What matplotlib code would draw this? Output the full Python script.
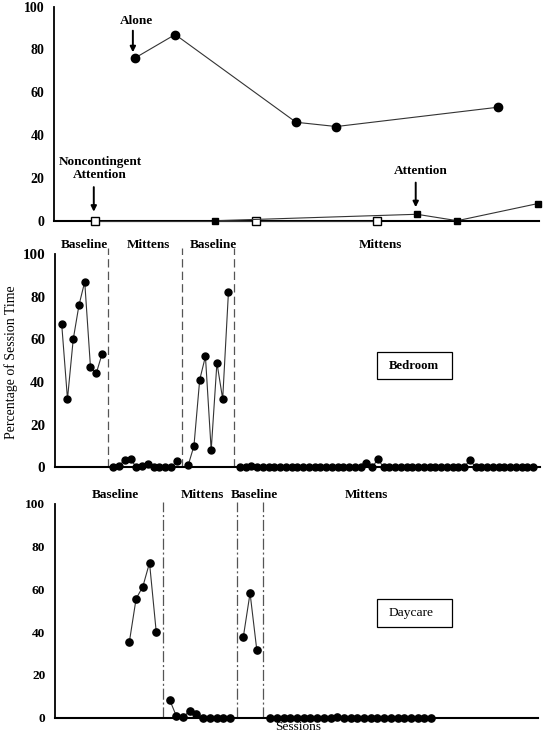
import matplotlib
matplotlib.use("Agg")
import matplotlib.pyplot as plt
import matplotlib.patches as mpatches
import numpy as np

plt.rcParams['font.family'] = ['Liberation Serif', 'DejaVu Serif']
plt.rcParams['lines.scale_dashes'] = False

# ---------------- Top panel: functional analysis ----------------
fa_alone_x = [2, 3, 6, 7, 11]
fa_alone_y = [76, 87, 46, 44, 53]
fa_nca_x = [1, 5, 8]
fa_nca_y = [0, 0, 0]
fa_att_x = [4, 9, 10, 12]
fa_att_y = [0, 3, 0, 8]

# ---------------- Middle panel: Bedroom ----------------
bed_base1 = [67, 32, 60, 76, 87, 47, 44, 53]
bed_mit1 = [0, 0.8, 3.5, 3.7, 0, 0.8, 1.5, 0, 0, 0, 0, 2.8]
bed_base2 = [1, 10, 41, 52, 8, 49, 32, 82]
bed_mit2 = [0, 0, 0.5, 0, 0, 0, 0, 0, 0, 0,
            0, 0, 0, 0, 0, 0, 0, 0, 0, 0,
            0, 0, 1.9, 0, 3.8, 0, 0, 0, 0, 0,
            0, 0, 0, 0, 0, 0, 0, 0, 0, 0,
            3.4, 0, 0, 0, 0, 0, 0, 0, 0, 0,
            0, 0]
bed_labels = ["Baseline", "Mittens", "Baseline", "Mittens"]

# ---------------- Bottom panel: Daycare ----------------
day_base1 = [35.6, 55.7, 61.3, 72.5, 40.2]
day_mit1 = [8.4, 0.8, 0.3, 3.1, 1.6, 0, 0, 0, 0, 0]
day_base2 = [37.9, 58.3, 31.8]
day_mit2 = [0, 0, 0, 0, 0, 0, 0, 0, 0, 0,
            0.5, 0, 0, 0, 0, 0, 0, 0, 0, 0,
            0, 0, 0, 0, 0]
day_labels = ["Baseline", "Mittens", "Baseline", "Mittens"]

yticks = [0, 20, 40, 60, 80, 100]

W, H = 543, 734
fig = plt.figure(figsize=(W / 100, H / 100), dpi=100)

LINE_C = '#333333'
DASH_C = '#555555'


def style_axes(ax, tick_fs):
    for s in ['top', 'right']:
        ax.spines[s].set_visible(False)
    ax.spines['left'].set_linewidth(1.3)
    ax.spines['bottom'].set_linewidth(1.5)
    ax.set_xticks([])
    ax.set_ylim(0, 100)
    ax.set_yticks(yticks)
    ax.tick_params(axis='y', length=0, pad=7, labelsize=tick_fs)
    for lab in ax.get_yticklabels():
        lab.set_fontweight('bold')


def phase_plot(ax, phases, ms):
    start = 1
    lines = []
    for i, vals in enumerate(phases):
        xs = np.arange(start, start + len(vals))
        ax.plot(xs, vals, '-', color=LINE_C, lw=0.8, marker='o', ms=ms,
                mfc='black', mec='black', clip_on=False, zorder=3)
        start = start + len(vals) + 1
        if i < len(phases) - 1:
            lines.append(start - 1)
    return lines


# ---- Top ----
ax1 = fig.add_axes([54.3 / W, 1 - 220.7 / H, 484.7 / W, 214 / H])
style_axes(ax1, 10)
ax1.set_xlim(0, 12.03)
ax1.plot(fa_nca_x, fa_nca_y, '-', color=LINE_C, lw=0.8, marker='s', ms=5.5,
         mfc='white', mec='black', mew=1.0, clip_on=False, zorder=4)
ax1.plot(fa_att_x, fa_att_y, '-', color=LINE_C, lw=0.8, marker='s', ms=4.6,
         mfc='black', mec='black', clip_on=False, zorder=4)
ax1.plot(fa_alone_x, fa_alone_y, '-', color=LINE_C, lw=0.8, marker='o', ms=6,
         mfc='black', mec='black', clip_on=False, zorder=4)

arrow = dict(arrowstyle='-|>', lw=1.4, color='black', mutation_scale=8,
             shrinkA=0, shrinkB=0)
ax1.text(2.04, 93.2, "Alone", ha='center', va='center', fontsize=9.5,
         fontweight='bold')
ax1.annotate("", xy=(1.95, 78.7), xytext=(1.95, 88.8), arrowprops=arrow)
ax1.text(1.14, 24.5, "Noncontingent\nAttention", ha='center', va='center',
         fontsize=9.5, fontweight='bold', linespacing=1.12)
ax1.annotate("", xy=(0.98, 4.2), xytext=(0.98, 15.7), arrowprops=arrow)
ax1.text(9.1, 23.4, "Attention", ha='center', va='center', fontsize=9.5,
         fontweight='bold')
ax1.annotate("", xy=(8.97, 6.3), xytext=(8.97, 17.8), arrowprops=arrow)

# ---- Middle (Bedroom) ----
ax2 = fig.add_axes([55 / W, 1 - 467.3 / H, 485 / W, 213.3 / H])
style_axes(ax2, 10.8)
ax2.set_xlim(-0.17, 84.2)
plines = phase_plot(ax2, [bed_base1, bed_mit1, bed_base2, bed_mit2], 5)
ax2.vlines(plines, 0, 103, colors=DASH_C, lw=0.9, linestyles=(0, (6, 3)),
           clip_on=False)
for xp, lab in zip([5.0, 16.1, 27.3, 56.4], bed_labels):
    ax2.text(xp, 104.4, lab, ha='center', va='center', fontsize=9.5,
             fontweight='bold')
ax2.add_patch(mpatches.Rectangle((0.663, 0.414), 0.156, 0.125,
                                 transform=ax2.transAxes, fill=True,
                                 facecolor='white', edgecolor='black', lw=0.9))
ax2.text(0.741, 0.4765, "Bedroom", transform=ax2.transAxes, ha='center',
         va='center', fontsize=9.2, fontweight='bold')
ax2.set_ylabel("Percentage of Session Time", fontsize=10)
ax2.yaxis.set_label_coords(-0.076, 0.494)

# ---- Bottom (Daycare) ----
ax3 = fig.add_axes([55 / W, 1 - 717.7 / H, 483.3 / W, 213.7 / H])
style_axes(ax3, 9.6)
ax3.set_xlim(-10.1, 62.0)
plines = phase_plot(ax3, [day_base1, day_mit1, day_base2, day_mit2], 5.2)
ax3.vlines(plines, 0, 101, colors=DASH_C, lw=0.9, linestyles=(0, (8, 2, 1.5, 2)),
           clip_on=False)
for xp, lab in zip([-1.09, 11.9, 19.6, 36.4], day_labels):
    ax3.text(xp, 104.2, lab, ha='center', va='center', fontsize=9.5,
             fontweight='bold')
ax3.add_patch(mpatches.Rectangle((0.666, 0.426), 0.156, 0.128,
                                 transform=ax3.transAxes, fill=True,
                                 facecolor='white', edgecolor='black', lw=0.9))
ax3.text(0.737, 0.49, "Daycare", transform=ax3.transAxes, ha='center',
         va='center', fontsize=9.7)
fig.text(298 / W, 1 - 727.3 / H, "Sessions", ha='center', va='center',
         fontsize=9.6)

fig.savefig("out.png", dpi=100)
